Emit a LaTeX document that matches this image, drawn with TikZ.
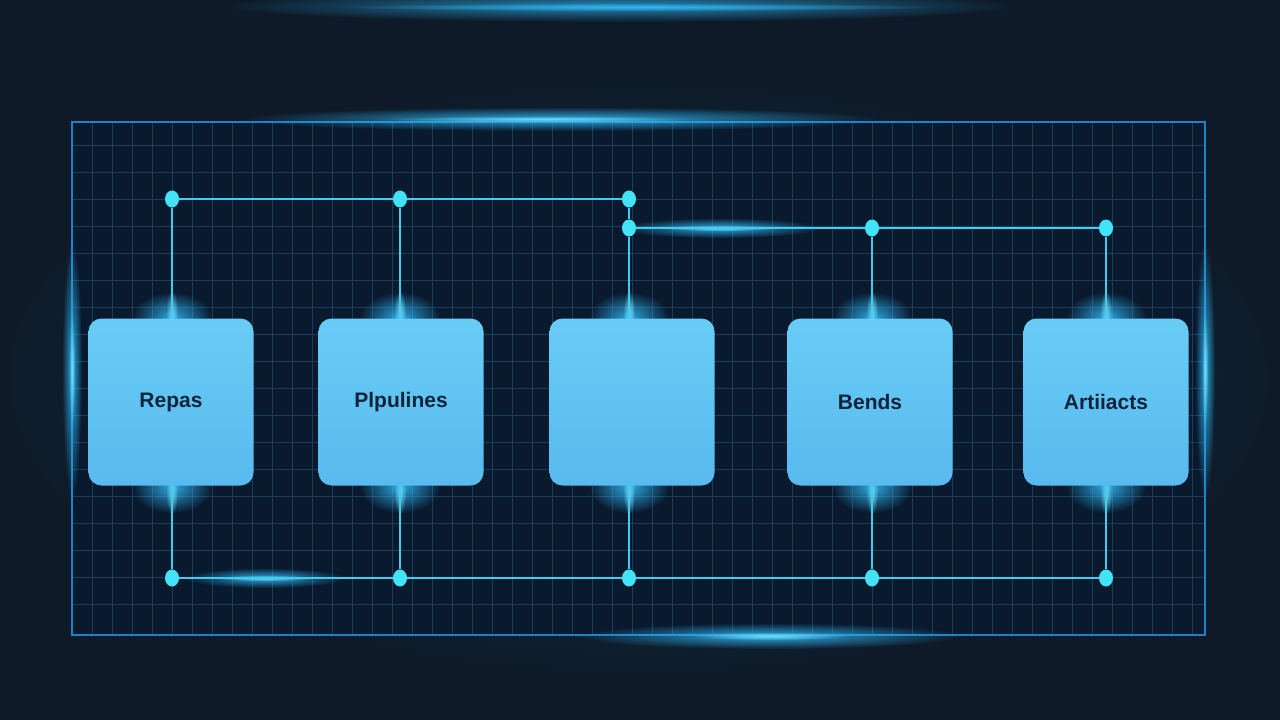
\documentclass[tikz,border=0pt]{standalone}
\usepackage{fontspec}
\setmainfont{Liberation Sans}
\usetikzlibrary{fadings,shapes.geometric}
\definecolor{bg}{HTML}{0E1A28}
\definecolor{panel}{HTML}{0A1A2E}
\definecolor{gridc}{HTML}{1C3E5C}
\definecolor{edge}{HTML}{2080C8}
\definecolor{wirec}{HTML}{40CDF0}
\definecolor{dotc}{HTML}{42E2F7}
\definecolor{glowc}{HTML}{2FB8F5}
\definecolor{glowcore}{HTML}{7FE8FF}
\definecolor{boxtop}{HTML}{68CCF6}
\definecolor{boxbot}{HTML}{58BAEE}
\definecolor{txt}{HTML}{10233A}
\tikzfading[name=softglow, inner color=transparent!0, outer color=transparent!100]
\tikzset{
  box/.style={rectangle, rounded corners=13pt, minimum width=165pt, minimum height=167pt,
    inner sep=0pt, top color=boxtop, bottom color=boxbot, draw=none,
    font=\fontsize{21}{24}\selectfont\bfseries, text=txt},
  dot/.style={ellipse, minimum width=14pt, minimum height=17pt, inner sep=0pt, fill=dotc, draw=none},
  wire/.style={draw=wirec, line width=2.6pt},
  glow/.style={fill=glowc, path fading=softglow},
  core/.style={fill=glowcore, path fading=softglow},
}
\begin{document}
\begin{tikzpicture}[x=1pt,y=-1pt]
\useasboundingbox (0,0) rectangle (1280,720);
\fill[bg] (0,0) rectangle (1280,720);
% top streak
\fill[glow, opacity=0.7] (620,6) ellipse [x radius=400, y radius=16];
\fill[glow, opacity=1] (640,7) ellipse [x radius=300, y radius=4];
% panel halo
\fill[glow, opacity=0.25] (638,378) ellipse [x radius=640, y radius=300];
% panel
\fill[panel] (72,122) rectangle (1205,635);
\foreach \x in {92,112,...,1192} \draw[gridc, line width=1pt] (\x,122) -- (\x,635);
\foreach \y in {145,172,...,625} \draw[gridc, line width=1pt] (72,\y) -- (1205,\y);
\draw[edge, line width=1.8pt] (72,122) rectangle (1205,635);
% panel edge glows
\fill[glow, opacity=0.9] (560,119) ellipse [x radius=320, y radius=12];
\fill[core, opacity=0.8] (540,119) ellipse [x radius=160, y radius=3];
\fill[glow, opacity=0.9] (770,636) ellipse [x radius=190, y radius=13];
\fill[core, opacity=0.8] (770,636) ellipse [x radius=80, y radius=4];
\fill[glow, opacity=0.9] (72,370) ellipse [x radius=10, y radius=130];
\fill[core, opacity=0.8] (72,370) ellipse [x radius=3, y radius=60];
\fill[glow, opacity=0.9] (1205,370) ellipse [x radius=10, y radius=130];
\fill[core, opacity=0.8] (1205,370) ellipse [x radius=3, y radius=60];
% glows behind box attachment points
\foreach \x in {172,400,629,872,1106} {
  \fill[glow, opacity=0.9] (\x,318) ellipse [x radius=40, y radius=26];
  \fill[glow, opacity=0.9] (\x,487) ellipse [x radius=40, y radius=26];
  \fill[core, opacity=0.8] (\x,312) ellipse [x radius=6, y radius=22];
  \fill[core, opacity=0.8] (\x,493) ellipse [x radius=6, y radius=22];
}
% wire glows
\fill[glow, opacity=0.9] (720,228) ellipse [x radius=100, y radius=10];
\fill[core, opacity=0.9] (720,228) ellipse [x radius=60, y radius=3];
\fill[glow, opacity=0.9] (265,578) ellipse [x radius=80, y radius=10];
\fill[core, opacity=0.9] (265,578) ellipse [x radius=50, y radius=3];
% boxes
\node[box] (repas) at (171,402) {Repas};
\node[box] (pipe) at (401,402) {Plpulines};
\node[box] (mid) at (632,402) {};
\node[box] (bends) at (870,402) {Bends};
\node[box] (arti) at (1106,402) {Artiiacts};
% junction dots
\node[dot] (t1) at (172,199) {};
\node[dot] (t2) at (400,199) {};
\node[dot] (t3) at (629,199) {};
\node[dot] (u1) at (629,228) {};
\node[dot] (u2) at (872,228) {};
\node[dot] (u3) at (1106,228) {};
\node[dot] (b1) at (172,578) {};
\node[dot] (b2) at (400,578) {};
\node[dot] (b3) at (629,578) {};
\node[dot] (b4) at (872,578) {};
\node[dot] (b5) at (1106,578) {};
% wires
\draw[wire] (t1) -- (t2) -- (t3);
\draw[wire] (t3) -- (u1);
\draw[wire] (u1) -- (u2) -- (u3);
\draw[wire] (b1) -- (b2) -- (b3) -- (b4) -- (b5);
\draw[wire] (t1) -- (t1 |- repas.north);
\draw[wire] (t2) -- (t2 |- pipe.north);
\draw[wire] (u1) -- (u1 |- mid.north);
\draw[wire] (u2) -- (u2 |- bends.north);
\draw[wire] (u3) -- (u3 |- arti.north);
\draw[wire] (b1) -- (b1 |- repas.south);
\draw[wire] (b2) -- (b2 |- pipe.south);
\draw[wire] (b3) -- (b3 |- mid.south);
\draw[wire] (b4) -- (b4 |- bends.south);
\draw[wire] (b5) -- (b5 |- arti.south);
\end{tikzpicture}
\end{document}
